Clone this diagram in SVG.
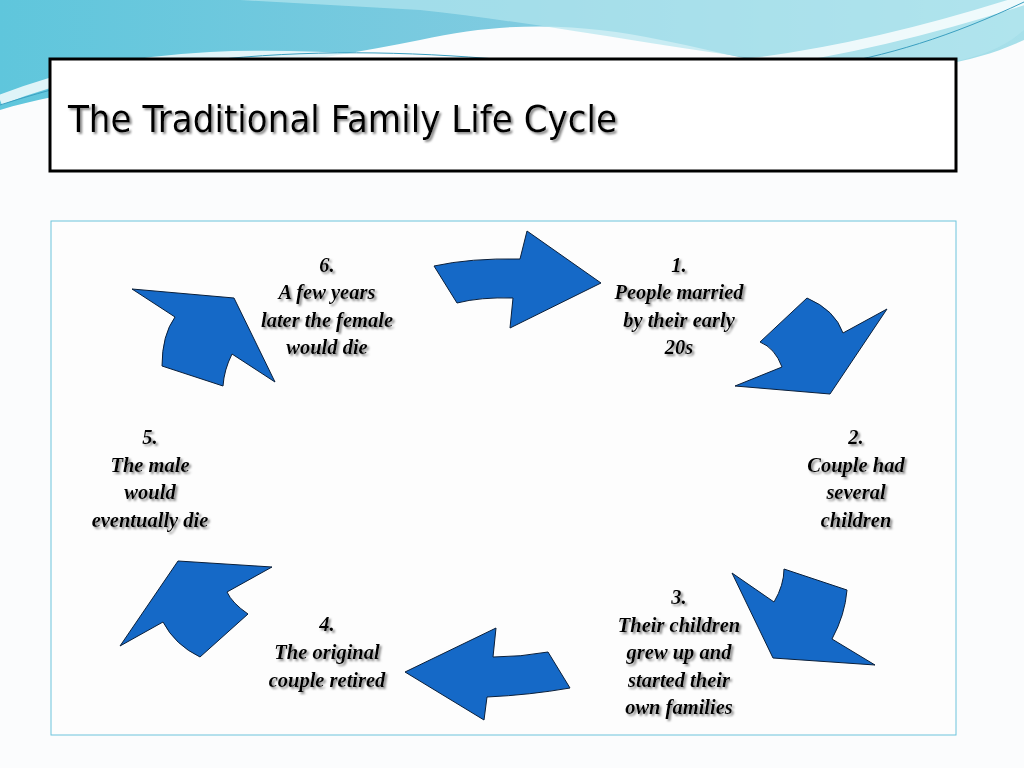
<svg xmlns="http://www.w3.org/2000/svg" width="1024" height="768" viewBox="0 0 1024 768">
<defs>
<linearGradient id="wv" x1="0" y1="0" x2="1" y2="0">
<stop offset="0" stop-color="#5fc6dc"/><stop offset="0.5" stop-color="#7fcbe0"/><stop offset="1" stop-color="#a8e0ea"/>
</linearGradient>
<filter id="sh" x="-10%" y="-10%" width="130%" height="130%"><feDropShadow dx="2" dy="2" stdDeviation="0.8" flood-color="#888"/></filter>
</defs>
<style>
.ar{fill:#1569c7;stroke:#0a1f3a;stroke-width:1}
.t{font-family:"Liberation Serif",serif;font-weight:bold;font-style:italic;font-size:20.5px;text-anchor:middle;fill:#000;filter:url(#sh)}
</style>
<rect width="1024" height="768" fill="#fbfcfd"/>
<path d="M0 0H1024V40C960 70 880 75 820 70C700 60 600 0 420 40C250 75 100 80 0 110Z" fill="url(#wv)"/>
<path d="M240 0H1024V30C980 70 900 70 820 66C700 55 560 25 420 10Z" fill="#b4e6ee" opacity="0.7"/>
<path d="M0 100C150 40 300 55 460 65C620 75 760 85 1024 0" fill="none" stroke="#ffffff" stroke-width="10" opacity="0.8"/>
<path d="M0 105C200 40 400 45 600 70C760 85 880 70 1024 2" fill="none" stroke="#3a9fc0" stroke-width="1"/>
<rect x="50" y="59" width="906" height="112" fill="#fff" stroke="#000" stroke-width="3"/>
<text x="68" y="132" font-family="'DejaVu Sans Condensed','DejaVu Sans',sans-serif" font-size="38" filter="url(#sh)">The Traditional Family Life Cycle</text>
<rect x="51" y="221" width="905" height="514" fill="#fdfdfd" stroke="#6cc3dc" stroke-width="1"/>
<g id="connectors">
<path class="ar" d="M434 266Q470 258 520 259L527 231L601 283L510 328L513 298Q480 297 457 303Z"/>
<path class="ar" d="M807 298Q835 310 843 333L887 309L830 394L735 386L782 367Q775 348 760 342Z"/>
<path class="ar" d="M732 573L774 602Q784 585 784 569L847 590Q845 615 832 639L875 665L773 658Z"/>
<path class="ar" d="M405 672L496 628L493 657Q520 657 548 652L570 688Q530 695 487 697L484 720Z"/>
<path class="ar" d="M120 646L163 622Q175 645 200 657L248 614Q232 603 227 592L272 567L178 561Z"/>
<path class="ar" d="M132 289L234 298L275 382L232 354Q224 370 223 386L162 366Q162 335 175 317Z"/>
</g>
<g id="n6"><text class="t"><tspan x="327" y="272">6.</tspan><tspan x="327" y="299">A few years</tspan><tspan x="327" y="327">later the female</tspan><tspan x="327" y="354">would die</tspan></text></g>
<g id="n1"><text class="t"><tspan x="679" y="272">1.</tspan><tspan x="679" y="299">People married</tspan><tspan x="679" y="327">by their early</tspan><tspan x="679" y="354">20s</tspan></text></g>
<g id="n2"><text class="t"><tspan x="856" y="444">2.</tspan><tspan x="856" y="472">Couple had</tspan><tspan x="856" y="499">several</tspan><tspan x="856" y="527">children</tspan></text></g>
<g id="n5"><text class="t"><tspan x="150" y="444">5.</tspan><tspan x="150" y="472">The male</tspan><tspan x="150" y="499">would</tspan><tspan x="150" y="527">eventually die</tspan></text></g>
<g id="n3"><text class="t"><tspan x="679" y="604">3.</tspan><tspan x="679" y="632">Their children</tspan><tspan x="679" y="659">grew up and</tspan><tspan x="679" y="687">started their</tspan><tspan x="679" y="714">own families</tspan></text></g>
<g id="n4"><text class="t"><tspan x="327" y="631">4.</tspan><tspan x="327" y="659">The original</tspan><tspan x="327" y="687">couple retired</tspan></text></g>
</svg>
